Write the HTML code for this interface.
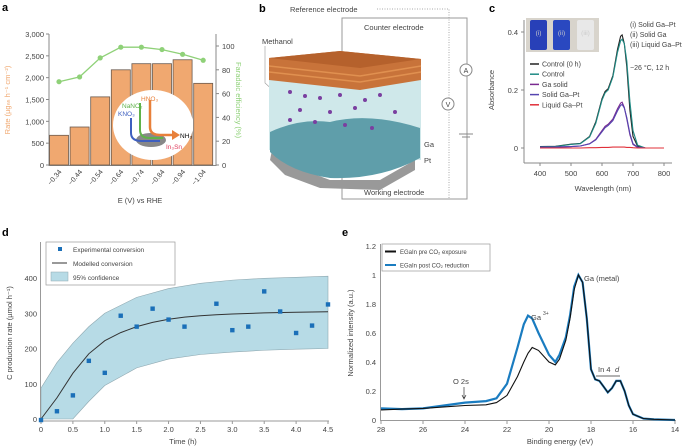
<!DOCTYPE html>
<html><head><meta charset="utf-8"><style>
body{margin:0;background:#fff}
svg{display:block;font-family:"Liberation Sans",sans-serif}
text{fill:#444}
</style></head><body>
<svg id="fig" width="685" height="448" viewBox="0 0 685 448" xmlns="http://www.w3.org/2000/svg">
<g id="pa"></g>
<g id="pb">
 <text x="2" y="11" font-weight="bold" font-size="11" style="fill:#000">a</text>
 <text x="259" y="12" font-weight="bold" font-size="11" style="fill:#000">b</text>
 <text x="290" y="12" font-size="7.5">Reference electrode</text>
 <path d="M377 9 H449 V199" fill="none" stroke="#aaa" stroke-dasharray="1,1.5"/>
 <rect x="342" y="18" width="125" height="181" fill="none" stroke="#999"/>
 <text x="364" y="30" font-size="7.5">Counter electrode</text>
 <text x="364" y="195" font-size="7.5">Working electrode</text>
 <text x="262" y="44" font-size="7.5">Methanol</text>
 <path d="M265 46 V83 L275 92" fill="none" stroke="#999" stroke-width="0.6"/>
 <polygon points="269,80 421,80 421,160 269,150" fill="#cfe8ea"/>
 <polygon points="269,58 340,51 421,59 421,80 360,90 269,80" fill="#c8733a"/>
 <polygon points="269,58 340,51 421,59 360,68" fill="#b5612c"/>
 <path d="M269,66 L360,76 L421,66 M269,72 L360,82 L421,72" stroke="#e09050" stroke-width="1.5" fill="none"/>
 <polygon points="272,150 290,165 330,180 380,180 415,160 415,170 380,190 320,188 285,175 270,160" fill="#999"/>
 <path d="M270,132 Q300,118 330,122 Q370,112 420,128 L420,158 Q380,180 330,178 Q290,172 270,152 Z" fill="#5f9eaa"/>
 <g fill="#7a3fa0">
  <circle cx="290" cy="92" r="2"/><circle cx="305" cy="96" r="2"/><circle cx="320" cy="98" r="2"/><circle cx="340" cy="95" r="2"/><circle cx="365" cy="100" r="2"/><circle cx="380" cy="95" r="2"/><circle cx="300" cy="110" r="2"/><circle cx="330" cy="112" r="2"/><circle cx="355" cy="108" r="2"/><circle cx="395" cy="112" r="2"/><circle cx="290" cy="120" r="2"/><circle cx="345" cy="125" r="2"/><circle cx="372" cy="128" r="2"/><circle cx="315" cy="122" r="2"/>
 </g>
 <text x="424" y="147" font-size="7.5">Ga</text>
 <text x="424" y="163" font-size="7.5">Pt</text>
 <circle cx="466" cy="70" r="6" fill="#fff" stroke="#888"/>
 <text x="466" y="73" font-size="7" text-anchor="middle">A</text>
 <circle cx="448" cy="104" r="6" fill="#fff" stroke="#888"/>
 <text x="448" y="107" font-size="7" text-anchor="middle">V</text>
 <path d="M459 134 H473 M462 137 H470" stroke="#888"/>
</g>
<g id="pc"></g>
<g id="pd"></g>
<g id="pe"></g>
</svg>
<script>
// ---------- data ----------
const aCats=["-0.34","-0.44","-0.54","-0.64","-0.74","-0.84","-0.94","-1.04"];
const aRates=[680,870,1560,2180,2320,2320,2410,1870];
const aFE=[70,74,90,99,99,97,93,88];
const aYTicks=[0,500,1000,1500,2000,2500,3000];
const aFETicks=[0,20,40,60,80,100];

const cWave=[400,450,500,530,560,580,600,610,620,635,650,660,665,672,680,690,700,715,740,800];
const cCtrl0=[0.005,0.006,0.013,0.016,0.04,0.09,0.17,0.195,0.205,0.25,0.34,0.385,0.39,0.36,0.28,0.13,0.04,0.006,0,0];
const cCtrl=[0.004,0.005,0.012,0.015,0.038,0.085,0.165,0.19,0.2,0.245,0.33,0.37,0.375,0.36,0.3,0.16,0.06,0.01,0,0];
const cGa=[0.003,0.003,0.005,0.007,0.015,0.03,0.06,0.075,0.082,0.1,0.135,0.155,0.158,0.14,0.1,0.045,0.012,0.002,0,0];
const cSolid=[0.003,0.003,0.005,0.007,0.014,0.028,0.056,0.07,0.078,0.095,0.128,0.147,0.15,0.138,0.105,0.05,0.015,0.003,0,0];
const cLiq=[0,0,0,0,0.001,0.001,0.002,0.002,0.002,0.003,0.003,0.003,0.003,0.003,0.002,0.002,0.001,0,0,0];
const cXTicks=[400,500,600,700,800];
const cYTicks=[0,0.2,0.4];

const dT=[0,0.25,0.5,0.75,1,1.25,1.5,1.75,2,2.25,2.75,3,3.25,3.5,3.75,4,4.25,4.5];
const dExp=[-3,22,67,165,131,293,262,313,282,262,327,252,262,362,305,244,265,325];
const dModT=[0,0.25,0.5,0.75,1,1.25,1.5,1.75,2,2.25,2.5,2.75,3,3.5,4,4.5];
const dMod=[0,60,130,185,222,245,262,274,283,289,293,296,298,301,303,304];
const dBandT=[0,0.25,0.5,0.75,1,1.5,2,2.5,3,3.5,4,4.5];
const dUpper=[88,160,215,262,300,345,370,385,394,399,402,405];
const dLower=[0,0,0,50,95,145,170,183,190,195,198,200];
const dXTicks=[0,0.5,1,1.5,2,2.5,3,3.5,4,4.5];
const dYTicks=[0,100,200,300,400];

const eE=[28,27,26,25,24,23,22.5,22,21.5,21.2,21,20.8,20.5,20,19.7,19.5,19.2,19,18.8,18.6,18.4,18.2,18,17.8,17.6,17.4,17.2,17,16.8,16.6,16.4,16.2,16,15.5,15,14];
const ePre=[0.07,0.075,0.08,0.09,0.1,0.105,0.12,0.17,0.3,0.4,0.46,0.5,0.48,0.4,0.38,0.42,0.55,0.7,0.9,1.0,0.95,0.7,0.35,0.28,0.27,0.23,0.19,0.22,0.27,0.27,0.2,0.1,0.04,0.01,0.005,0];
const ePost=[0.08,0.075,0.08,0.1,0.12,0.13,0.15,0.25,0.5,0.66,0.72,0.7,0.6,0.45,0.4,0.45,0.57,0.72,0.92,1.0,0.95,0.7,0.35,0.28,0.27,0.23,0.19,0.22,0.27,0.27,0.2,0.1,0.04,0.01,0.005,0];
const eXTicks=[28,26,24,22,20,18,16,14];
const eYTicks=[0,0.2,0.4,0.6,0.8,1,1.2];
const eYLabels=["0","0.2","0.4","0.6","1.8","1","1.2"];

// ---------- helpers ----------
const NS="http://www.w3.org/2000/svg";
function mk(parent,tag,attrs,txt){const e=document.createElementNS(NS,tag);for(const k in attrs)e.setAttribute(k,attrs[k]);if(txt!==undefined)e.textContent=txt;parent.appendChild(e);return e;}
function linePath(xs,ys,sx,sy){return xs.map((v,i)=>(i?"L":"M")+sx(v).toFixed(1)+" "+sy(ys[i]).toFixed(1)).join(" ");}

// ---------- panel a ----------
(function(){
const g=document.getElementById('pa');
const ay=v=>165-v/3000*131, fy=v=>165-v/100*119, ax=i=>59+i*20.6;
let e=mk(g,'line',{x1:49,y1:34,x2:49,y2:166,stroke:'#888'});
e=mk(g,'line',{x1:216,y1:34,x2:216,y2:166,stroke:'#888'});
mk(g,'line',{x1:49,y1:165.5,x2:216,y2:165.5,stroke:'#888'});
aYTicks.forEach(v=>{mk(g,'line',{x1:46,x2:49,y1:ay(v),y2:ay(v),stroke:'#888'});
 e=mk(g,'text',{x:44,y:ay(v)+3,'font-size':7.5,'text-anchor':'end'},v.toLocaleString('en-US'));});
aFETicks.forEach(v=>{mk(g,'line',{x1:216,x2:219,y1:fy(v),y2:fy(v),stroke:'#888'});
 e=mk(g,'text',{x:222,y:fy(v)+3,'font-size':7.5},v);});
aRates.forEach((v,i)=>{e=mk(g,'rect',{x:ax(i)-9.5,y:ay(v),width:19,height:165-ay(v),fill:'#f0a870',stroke:'#6b5a4e','stroke-width':0.8});
 
 e=mk(g,'text',{transform:`translate(${ax(i)+3},172) rotate(-50)`,'font-size':7,'text-anchor':'end'},aCats[i].replace('-','\u2212'));
 });
e=mk(g,'path',{d:linePath(aFE.map((v,i)=>i),aFE,ax,fy),fill:'none',stroke:'#8fd178','stroke-width':1.3});

aFE.forEach((v,i)=>{e=mk(g,'circle',{cx:ax(i),cy:fy(v),r:2.6,fill:'#8fd178'});});
e=mk(g,'ellipse',{cx:153,cy:125,rx:40,ry:35,fill:'#fff'});
mk(g,'ellipse',{cx:151,cy:140,rx:15,ry:7,fill:'#888'});
mk(g,'path',{d:'M131 118 V133 Q131 141 142 141 H160',fill:'none',stroke:'#3e5fbf','stroke-width':2});
mk(g,'path',{d:'M140 103 V130 Q140 138 150 138 H163',fill:'none',stroke:'#5fb24a','stroke-width':2});
mk(g,'path',{d:'M150 100 V127 Q150 135 160 135 H172',fill:'none',stroke:'#e8803a','stroke-width':2.5});
mk(g,'polygon',{points:'172,130 180,135 172,140',fill:'#e8803a'});
mk(g,'text',{x:141,y:101,'font-size':6.5,style:'fill:#e8803a'},'HNO\u2083');
mk(g,'text',{x:122,y:108,'font-size':6.5,style:'fill:#5fb24a'},'NaNO\u2082');
mk(g,'text',{x:118,y:116,'font-size':6.5,style:'fill:#3e5fbf'},'KNO\u2083');
mk(g,'text',{x:180,y:138,'font-size':6.5,style:'fill:#000'},'NH\u2083');
mk(g,'text',{x:166,y:149,'font-size':6.5,style:'fill:#e03a5a'},'In\u2083Sn');
e=mk(g,'text',{x:140,y:203,'font-size':7.5,'text-anchor':'middle'},'E (V) vs RHE');
e=mk(g,'text',{transform:'translate(10,100) rotate(-90)','font-size':7.5,'text-anchor':'middle',style:'fill:#f0a870'},'Rate (\u00b5g\u2099\u2095 h\u207b\u00b9 cm\u207b\u00b2)');
e=mk(g,'text',{transform:'translate(236,100) rotate(90)','font-size':7.5,'text-anchor':'middle',style:'fill:#8fd178'},'Faradaic efficiency (%)');
})();

// ---------- panel c ----------
(function(){
const g=document.getElementById('pc');
const sx=v=>540+(v-400)/400*124, sy=v=>148-v/0.4*116;
mk(g,'text',{x:489,y:12,'font-weight':'bold','font-size':11,style:'fill:#000'},'c');
let e=mk(g,'line',{x1:524,y1:20,x2:524,y2:163,stroke:'#888'});
e=mk(g,'line',{x1:524,y1:163,x2:672,y2:163,stroke:'#888'});
cXTicks.forEach(v=>{mk(g,'line',{x1:sx(v),x2:sx(v),y1:163,y2:166,stroke:'#888'});
 e=mk(g,'text',{x:sx(v),y:176,'font-size':7.5,'text-anchor':'middle'},v);});
cYTicks.forEach(v=>{mk(g,'line',{x1:521,x2:524,y1:sy(v),y2:sy(v),stroke:'#888'});
 e=mk(g,'text',{x:518,y:sy(v)+3,'font-size':7.5,'text-anchor':'end'},v);});
e=mk(g,'text',{x:603,y:191,'font-size':7.5,'text-anchor':'middle'},'Wavelength (nm)');
e=mk(g,'text',{transform:'translate(494,90) rotate(-90)','font-size':7.5,'text-anchor':'middle'},'Absorbance');
const series=[[cCtrl0,'#222','Control (0 h)'],[cCtrl,'#1f8a84','Control'],[cGa,'#7a2a90','Ga solid'],[cSolid,'#5545b0','Solid Ga\u2013Pt'],[cLiq,'#e0303a','Liquid Ga\u2013Pt']];
series.forEach((s,i)=>{e=mk(g,'path',{d:linePath(cWave,s[0],sx,sy),fill:'none',stroke:s[1],'stroke-width':1.1});
 
 const y=64+i*10.2;mk(g,'line',{x1:530,x2:539,y1:y,y2:y,stroke:s[1],'stroke-width':1.5});
 e=mk(g,'text',{x:542,y:y+2.5,'font-size':7},s[2]);});
e=mk(g,'rect',{x:526,y:18,width:73,height:34,fill:'#d8d4cc'});
[[530,'#2840b8','(i)'],[553,'#2a48c0','(ii)'],[577,'#e8e8e8','(iii)']].forEach(v=>{mk(g,'rect',{x:v[0],y:20,width:17,height:30,fill:v[1],rx:2});
 mk(g,'text',{x:v[0]+8.5,y:35,'font-size':6.5,'text-anchor':'middle',style:'fill:#ccc'},v[2]);});
['(i) Solid Ga\u2013Pt','(ii) Solid Ga','(iii) Liquid Ga\u2013Pt'].forEach((t,i)=>{e=mk(g,'text',{x:630,y:27+i*10,'font-size':7},t);});
mk(g,'text',{x:630,y:70,'font-size':7},'\u221226 \u00b0C, 12 h');
})();

// ---------- panel d ----------
(function(){
const g=document.getElementById('pd');
const sx=v=>41+v/4.5*287, sy=v=>419-v/400*141;
mk(g,'text',{x:2,y:236,'font-weight':'bold','font-size':11,style:'fill:#000'},'d');
let up=dBandT.map((t,i)=>sx(t)+' '+sy(dUpper[i])).join(' L');
let lo=dBandT.map((t,i)=>sx(t)+' '+sy(dLower[i])).reverse().join(' L');
let e=mk(g,'path',{d:'M'+up+' L'+lo+' Z',fill:'#b7dbe6',stroke:'#8fa8b0','stroke-width':0.6});
e=mk(g,'line',{x1:40.5,y1:242,x2:40.5,y2:421,stroke:'#999'});
e=mk(g,'line',{x1:40,y1:421,x2:329,y2:421,stroke:'#999'});
dXTicks.forEach(v=>{mk(g,'line',{x1:sx(v),x2:sx(v),y1:421,y2:424,stroke:'#999'});
 e=mk(g,'text',{x:sx(v),y:432,'font-size':7.5,'text-anchor':'middle'},v===0?'0':v.toFixed(1));});
dYTicks.forEach(v=>{e=mk(g,'text',{x:37,y:sy(v)+3,'font-size':7.5,'text-anchor':'end'},v);});
e=mk(g,'path',{d:linePath(dModT,dMod,sx,sy),fill:'none',stroke:'#333','stroke-width':1});
dT.forEach((t,i)=>{e=mk(g,'rect',{x:sx(t)-2.2,y:sy(dExp[i])-2.2,width:4.4,height:4.4,fill:'#1a6fb8'});});
e=mk(g,'text',{x:183,y:444,'font-size':7.5,'text-anchor':'middle'},'Time (h)');
e=mk(g,'text',{transform:'translate(12,333) rotate(-90)','font-size':7.5,'text-anchor':'middle'},'C production rate (\u00b5mol h\u207b\u00b9)');
e=mk(g,'rect',{x:46,y:242,width:129,height:43,fill:'#fff',stroke:'#999','stroke-width':0.7});
mk(g,'rect',{x:58,y:247,width:4,height:4,fill:'#1a6fb8'});
mk(g,'text',{x:73,y:252,'font-size':6.5},'Experimental conversion');
mk(g,'line',{x1:52,x2:67,y1:263,y2:263,stroke:'#333'});
mk(g,'text',{x:73,y:266,'font-size':6.5},'Modelled conversion');
mk(g,'rect',{x:51,y:272,width:17,height:9,fill:'#b7dbe6',stroke:'#8fa8b0','stroke-width':0.5});
mk(g,'text',{x:73,y:280,'font-size':6.5},'95% confidence');
})();

// ---------- panel e ----------
(function(){
const g=document.getElementById('pe');
const sx=v=>381+(28-v)/14*294, sy=v=>420-v*145;
mk(g,'text',{x:342,y:236,'font-weight':'bold','font-size':11,style:'fill:#000'},'e');
let e=mk(g,'line',{x1:380.5,y1:244,x2:380.5,y2:421,stroke:'#999'});
e=mk(g,'line',{x1:380,y1:420.5,x2:676,y2:420.5,stroke:'#999'});
eXTicks.forEach(v=>{mk(g,'line',{x1:sx(v),x2:sx(v),y1:421,y2:424,stroke:'#999'});
 e=mk(g,'text',{x:sx(v),y:432,'font-size':7.5,'text-anchor':'middle'},v);});
eYTicks.forEach((v,i)=>{e=mk(g,'text',{x:376,y:sy(v)+3,'font-size':7.5,'text-anchor':'end'},eYLabels[i]);});
e=mk(g,'path',{d:linePath(eE,ePost,sx,sy),fill:'none',stroke:'#1a7cc0','stroke-width':2.2});
e=mk(g,'path',{d:linePath(eE,ePre,sx,sy),fill:'none',stroke:'#111','stroke-width':1.1});
e=mk(g,'text',{x:560,y:444,'font-size':7.5,'text-anchor':'middle'},'Binding energy (eV)');
e=mk(g,'text',{transform:'translate(353,333) rotate(-90)','font-size':7.5,'text-anchor':'middle'},'Normalized intensity (a.u.)');
e=mk(g,'rect',{x:382,y:244,width:108,height:27,fill:'#fff',stroke:'#999','stroke-width':0.7});
mk(g,'line',{x1:385,x2:396,y1:251.5,y2:251.5,stroke:'#111','stroke-width':2});
mk(g,'text',{x:400,y:254,'font-size':6},'EGaIn pre CO\u2082 exposure');
mk(g,'line',{x1:385,x2:396,y1:265,y2:265,stroke:'#1a7cc0','stroke-width':2});
mk(g,'text',{x:400,y:267.5,'font-size':6},'EGaIn post CO\u2082 reduction');
mk(g,'text',{x:531,y:320,'font-size':7.5},'Ga');mk(g,'text',{x:543,y:315,'font-size':5},'3+');
mk(g,'text',{x:584,y:281,'font-size':7.5},'Ga (metal)');
mk(g,'text',{x:453,y:384,'font-size':7.5},'O 2s');
mk(g,'path',{d:'M464 387 V398 M462 395 L464 399 L466 395',stroke:'#333',fill:'none','stroke-width':0.7});
mk(g,'text',{x:598,y:372,'font-size':7.5},'In 4');mk(g,'text',{x:615,y:372,'font-size':7.5,'font-style':'italic'},'d');
mk(g,'line',{x1:596,x2:620,y1:376,y2:376,stroke:'#333','stroke-width':0.7});
})();
</script>
</body></html>
